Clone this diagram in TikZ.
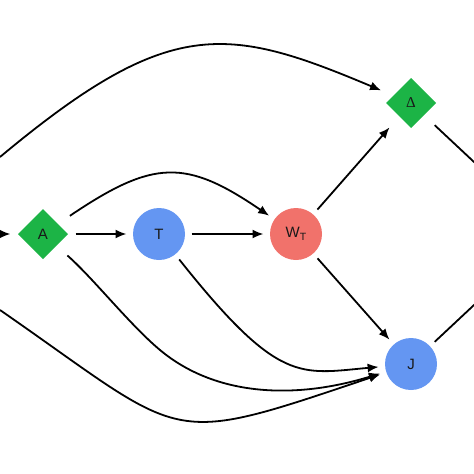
\documentclass[tikz,border=0pt]{standalone}
\usepackage{fontspec}
\setmainfont{Liberation Sans}
\newfontfamily\serifg{Liberation Serif}
\usetikzlibrary{arrows.meta}
\definecolor{ngreen}{RGB}{28,180,70}
\definecolor{nblue}{RGB}{100,150,242}
\definecolor{nred}{RGB}{241,114,107}
\begin{document}
\begin{tikzpicture}[x=1pt,y=-1pt,
  every node/.style={font=\fontsize{15}{17}\selectfont, text=black!90},
  cnode/.style={circle, minimum size=52pt, inner sep=0pt, outer sep=6.5pt},
  circ/.style={cnode, fill=#1},
  dia/.style={cnode, path picture={\fill[ngreen] (path picture bounding box.center) +(25pt,0pt) -- +(0pt,25pt) -- +(-25pt,0pt) -- +(0pt,-25pt) -- cycle;}},
  arr/.style={line width=1.8pt, -{Latex[length=11pt,width=9pt]}},
  ln/.style={line width=1.8pt}]
\useasboundingbox (0,0) rectangle (474,474);
\clip (0,0) rectangle (474,474);

\node[dia] (A) at (43,234) {A};
\node[dia] (D) at (411,103) {\serifg Δ};
\node[circ=nblue] (T) at (159,234) {T};
\node[circ=nred] (W) at (296,234) {W\raisebox{-3pt}{\fontsize{10.5}{10.5}\selectfont T}};
\node[circ=nblue] (J) at (411,364) {J};

\coordinate (L0) at (-10,234);
\coordinate (L1) at (0,157);
\coordinate (L2) at (0,310);
\coordinate (R1) at (480,167.6);
\coordinate (R2) at (480,299.4);
\coordinate (M1) at (160,350);

\draw[arr] (L0) -- (A);
\draw[arr] (A) -- (T);
\draw[arr] (T) -- (W);
\draw[arr] (W) -- (D);
\draw[arr] (W) -- (J);
\draw[arr] (L1) .. controls (169,16) and (226,25) .. (D);
\draw[arr] (A) .. controls (154,159) and (186,159) .. (W);
\draw[arr] (A) .. controls (93,278) and (130,325) .. (M1) .. controls (215,396) and (294,400) .. (J);
\draw[arr] (T) .. controls (279,385) and (300,374) .. (J);
\draw[arr] (L2) .. controls (189,441) and (162,448) .. (J);
\draw[ln] (D) -- (R1);
\draw[ln] (J) -- (R2);
\end{tikzpicture}
\end{document}
